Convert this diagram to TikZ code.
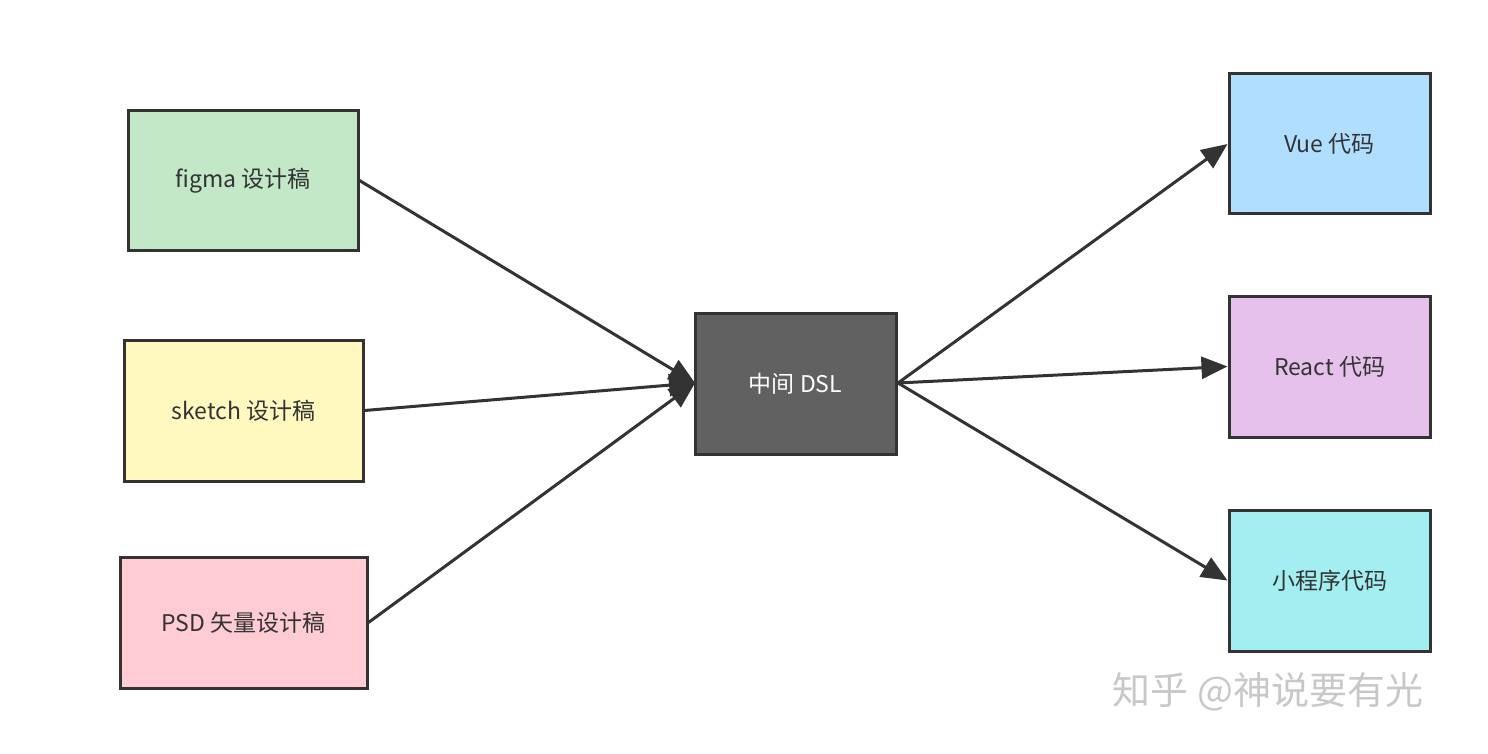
\documentclass[tikz,border=0pt]{standalone}
\usepackage{fontspec}
\setmainfont{Noto Sans CJK SC}
\usetikzlibrary{arrows.meta}
\definecolor{txt}{HTML}{333333}
\definecolor{cfig}{HTML}{C2E8C8}
\definecolor{csk}{HTML}{FFF9C0}
\definecolor{cpsd}{HTML}{FFCCD3}
\definecolor{cdsl}{HTML}{616161}
\definecolor{cvue}{HTML}{B0DEFF}
\definecolor{cre}{HTML}{E6C1EB}
\definecolor{cmp}{HTML}{A2EEF0}
\definecolor{cwm}{HTML}{C8C8C8}
\tikzset{
 box/.style={draw=txt,line width=3pt,minimum width=#1,inner sep=0pt,font=\fontsize{23}{27}\selectfont,text=txt},
 arr/.style={draw=txt,line width=3pt,-{Triangle[length=26pt,width=22pt]}}
}
\begin{document}
\begin{tikzpicture}[x=1pt,y=-1pt]
\useasboundingbox (0,0) rectangle (1488,754);
\node[box=230pt,minimum height=139pt,fill=cfig] (fig) at (243,180.5) {figma 设计稿};
\node[box=239pt,minimum height=141pt,fill=csk] (sk) at (243.5,410.5) {sketch 设计稿};
\node[box=247pt,minimum height=131pt,fill=cpsd] (psd) at (243.5,622.5) {PSD 矢量设计稿};
\node[box=201pt,minimum height=141pt,fill=cdsl,text=white] (dsl) at (795.5,383.5) {中间 DSL};
\node[box=201pt,minimum height=140pt,fill=cvue] (vue) at (1329.5,144) {Vue 代码};
\node[box=201pt,minimum height=141pt,fill=cre] (re) at (1329.5,366.5) {React 代码};
\node[box=201pt,minimum height=141pt,fill=cmp] (mp) at (1329.5,580.5) {小程序代码};
\coordinate (din) at (695,383);
\coordinate (dout) at (898,383);
\draw[arr] (fig.east) -- (din);
\draw[arr] (sk.east) -- (din);
\draw[arr] (psd.east) -- (din);
\draw[arr] (dout) -- (vue.west);
\draw[arr] (dout) -- (re.west);
\draw[arr] (dout) -- (mp.west);
\node[text=cwm,font=\fontsize{38}{42}\selectfont] (wm) at (1268,692) {知乎 @神说要有光};
\end{tikzpicture}
\end{document}
